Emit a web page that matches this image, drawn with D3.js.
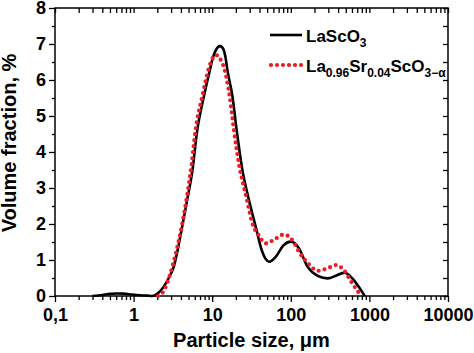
<!DOCTYPE html>
<html>
<head>
<meta charset="utf-8">
<script src="https://cdn.jsdelivr.net/npm/d3@7"></script>
<style>
  body { margin: 0; background: #fff; }
  svg { font-family: "Liberation Sans", Arial, sans-serif; font-weight: bold; }
  .axis text { font-size: 18px; font-weight: bold; fill: #000; }
  .axis line { stroke: #000; stroke-width: 1.3; }
</style>
</head>
<body>
<svg id="psd" width="474" height="353"></svg>
<script>
// data
const xTicks = [0.1, 1, 10, 100, 1000, 10000];
const xTickLabels = ["0,1", "1", "10", "100", "1000", "10000"];
const yTicks = [0, 1, 2, 3, 4, 5, 6, 7, 8];

const lascoSize = [0.3, 0.4, 0.5, 0.61, 0.75, 0.95, 1.2, 1.5, 1.72, 2.0, 2.42, 2.8, 3.24, 4.15, 4.8, 5.57, 6.45, 7.83, 9.35, 10.2, 11, 11.8, 12.5, 13.3, 14, 14.8, 15.6, 18.1, 20.5, 24.2, 28, 35.8, 43, 53, 65, 80, 100, 125, 164, 220, 295, 380, 481, 600, 750, 872];
const lascoFrac = [0, 0.03, 0.06, 0.07, 0.065, 0.04, 0.02, 0.01, 0, 0.06, 0.26, 0.5, 0.81, 1.93, 2.67, 3.45, 4.6, 5.54, 6.28, 6.62, 6.81, 6.91, 6.94, 6.91, 6.84, 6.62, 6.28, 5.54, 4.6, 3.5, 2.85, 1.92, 1.25, 0.95, 1.1, 1.4, 1.51, 1.35, 0.81, 0.56, 0.49, 0.57, 0.65, 0.5, 0.22, 0];

const srSize = [2.05, 2.3, 2.94, 3.5, 4.15, 4.8, 5.5, 6.13, 7.46, 9, 10, 11, 11.8, 12.5, 14.4, 16.7, 18.9, 22.6, 26.5, 33.6, 37.7, 48, 60, 82, 100, 135, 170, 220, 300, 377, 480, 586, 700, 785];
const srFrac = [0, 0.07, 0.63, 1.25, 2.0, 2.8, 3.7, 4.6, 5.54, 6.3, 6.58, 6.69, 6.68, 6.6, 6.28, 5.54, 4.6, 3.5, 2.85, 1.92, 1.74, 1.46, 1.55, 1.71, 1.6, 1.14, 0.88, 0.70, 0.78, 0.86, 0.7, 0.40, 0.15, 0];

const chart = d3.select("svg#psd");
const width = +chart.attr("width");
const height = +chart.attr("height");
const margin = {top: 8, right: 26, bottom: 57, left: 55};
const plotWidth = width - margin.left - margin.right;
const plotHeight = height - margin.top - margin.bottom;

const plot = chart.append("g")
                  .attr("transform", "translate(" + margin.left + "," + margin.top + ")");

const xScale = d3.scaleLog().domain([0.1, 10000]).range([0, plotWidth]);
const yScale = d3.scaleLinear().domain([0, 8]).range([plotHeight, 0]);

// minor ticks
let xMinor = [];
[0.1, 1, 10, 100, 1000].forEach(d => {
    for (let k = 2; k <= 9; k++) xMinor.push(d * k);
});
const yMinor = yTicks.slice(0, -1).map(d => d + 0.5);

// bottom axis, ticks outward
plot.append("g").attr("class", "x axis")
    .attr("transform", "translate(0," + plotHeight + ")")
    .call(d3.axisBottom(xScale).tickValues(xTicks)
            .tickFormat((d, i) => xTickLabels[i]).tickSize(6).tickPadding(6));
plot.append("g").attr("class", "x axis minor")
    .attr("transform", "translate(0," + plotHeight + ")")
    .call(d3.axisBottom(xScale).tickValues(xMinor).tickFormat("").tickSize(4));

// top axis, ticks inward
plot.append("g").attr("class", "x axis top")
    .call(d3.axisTop(xScale).tickValues(xTicks.concat(xMinor)).tickFormat("").tickSize(-5));

// left axis, ticks outward
plot.append("g").attr("class", "y axis")
    .call(d3.axisLeft(yScale).tickValues(yTicks).tickSize(6).tickPadding(3));
plot.append("g").attr("class", "y axis minor")
    .call(d3.axisLeft(yScale).tickValues(yMinor).tickFormat("").tickSize(3));

// right axis, ticks inward
plot.append("g").attr("class", "y axis right")
    .attr("transform", "translate(" + plotWidth + ",0)")
    .call(d3.axisRight(yScale).tickValues(yTicks.concat(yMinor)).tickFormat("").tickSize(-5));

plot.selectAll(".axis .domain").remove();

// frame
plot.append("rect")
    .attr("width", plotWidth).attr("height", plotHeight)
    .attr("fill", "none").attr("stroke", "#000").attr("stroke-width", 1.5);

const line = d3.line()
               .x(d => xScale(d[0]))
               .y(d => yScale(d[1]))
               .curve(d3.curveMonotoneX);

const lascoData = lascoSize.map((s, i) => [s, lascoFrac[i]]);
const srData = srSize.map((s, i) => [s, srFrac[i]]);

plot.append("path")
    .attr("d", line(lascoData))
    .attr("fill", "none").attr("stroke", "#000").attr("stroke-width", 2.6);

plot.append("path")
    .attr("d", line(srData))
    .attr("fill", "none").attr("stroke", "#ea1c24").attr("stroke-width", 4.2)
    .attr("stroke-linecap", "round").attr("stroke-dasharray", "0,6");

// legend
const legend = chart.append("g").attr("id", "legend");
legend.append("line")
      .attr("x1", 270).attr("x2", 302).attr("y1", 35).attr("y2", 35)
      .attr("stroke", "#000").attr("stroke-width", 2.6);
legend.append("line")
      .attr("x1", 271).attr("x2", 302).attr("y1", 65).attr("y2", 65)
      .attr("stroke", "#ea1c24").attr("stroke-width", 4.2)
      .attr("stroke-linecap", "round").attr("stroke-dasharray", "0,6");

function addLabel(y, parts) {
    let t = legend.append("text").attr("x", 306).attr("y", y).attr("font-size", 17);
    let shift = 0;
    parts.forEach(p => {
        let s = p[1] ? 5 : 0;
        t.append("tspan")
         .attr("dy", s - shift)
         .attr("font-size", p[1] ? 12 : 17)
         .text(p[0]);
        shift = s;
    });
}
addLabel(42, [["LaScO", false], ["3", true]]);
addLabel(72, [["La", false], ["0.96", true], ["Sr", false], ["0.04", true], ["ScO", false], ["3\u2212\u03b1", true]]);

// axis titles
chart.append("text")
     .attr("x", margin.left + plotWidth / 2).attr("y", 347)
     .attr("text-anchor", "middle").attr("font-size", 20)
     .text("Particle size, \u03bcm");
chart.append("text")
     .attr("transform", "translate(16,143) rotate(-90)")
     .attr("text-anchor", "middle").attr("font-size", 20)
     .text("Volume fraction, %");
</script>
</body>
</html>
